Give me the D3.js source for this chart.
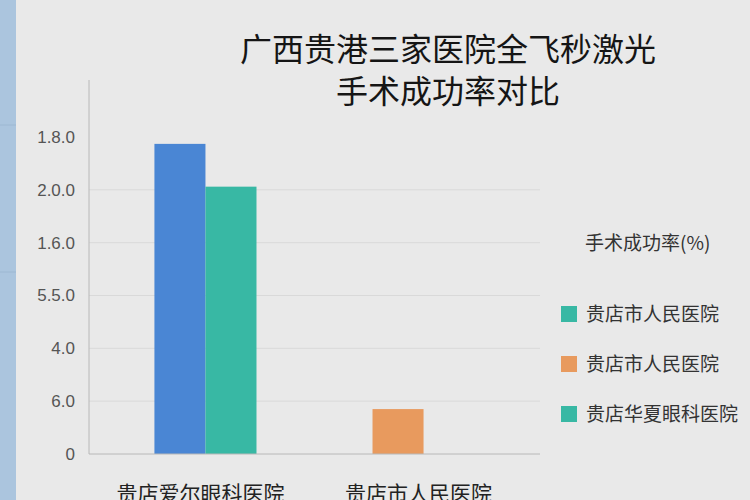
<!DOCTYPE html>
<html>
<head>
<meta charset="utf-8">
<script src="https://cdn.jsdelivr.net/npm/d3@7"></script>
<style>
  body { margin: 0; background: #e9e9e9; }
  svg { display: block; font-family: "Noto Sans CJK SC", "Noto Sans", sans-serif; }
</style>
</head>
<body>
<div id="chart"></div>
<script>
// data
const categories = ["贵店爱尔眼科医院", "贵店市人民医院"];
const slots = ["a", "b"];
const groupValues = [[5.87, 5.06], [0.85, null]];
const groupColors = [["#4a86d4", "#38b8a4"], ["#e89a5e", null]];
const tickValues = [0, 1, 2, 3, 4, 5, 6];
const tickLabels = ["0", "6.0", "4.0", "5.5.0", "1.6.0", "2.0.0", "1.8.0"];
const legendTitle = "手术成功率(%)";
const legendNames = ["贵店市人民医院", "贵店市人民医院", "贵店华夏眼科医院"];
const legendColors = ["#38b8a4", "#e89a5e", "#38b8a4"];
const titleLines = ["广西贵港三家医院全飞秒激光", "手术成功率对比"];

const chartWidth = 750;
const chartHeight = 500;

const svg = d3.select('#chart').append('svg')
    .attr('width', chartWidth)
    .attr('height', chartHeight);

svg.append('rect')
    .attr('width', chartWidth)
    .attr('height', chartHeight)
    .attr('fill', '#e9e9e9');

// blue strip on the left edge
svg.append('rect')
    .attr('width', 16)
    .attr('height', chartHeight)
    .attr('fill', '#abc5de');
svg.append('g').selectAll('line')
    .data([125, 272])
    .join('line')
    .attr('x1', 0).attr('x2', 16)
    .attr('y1', d => d).attr('y2', d => d)
    .attr('stroke', '#9db8d2');

const left = 89, right = 540, bottom = 454;

const y = d3.scaleLinear()
    .domain([0, 6])
    .range([bottom, 137]);

const x0 = d3.scaleBand()
    .domain(categories)
    .range([left, right])
    .paddingInner(0.532)
    .paddingOuter(0.3);

const x1 = d3.scaleBand()
    .domain(slots)
    .range([0, x0.bandwidth()]);

// grid lines
svg.append('g').selectAll('line')
    .data(tickValues.filter(d => d > 0 && d < 6))
    .join('line')
    .attr('x1', left).attr('x2', right)
    .attr('y1', d => y(d)).attr('y2', d => y(d))
    .attr('stroke', '#d9d9d9');

// y axis
const yAxis = svg.append('g')
    .attr('transform', `translate(${left},0)`)
    .call(d3.axisLeft(y)
        .tickValues(tickValues)
        .tickFormat((d, i) => tickLabels[i])
        .tickSize(0)
        .tickPadding(14));
yAxis.select('.domain').remove();
yAxis.selectAll('text')
    .attr('fill', '#555')
    .style('font-size', '17px')
    .style('font-family', '"Liberation Sans", "Noto Sans", sans-serif');

svg.append('line')
    .attr('x1', left).attr('x2', left)
    .attr('y1', 80).attr('y2', bottom)
    .attr('stroke', '#b8b8b8');

// bars
const groups = svg.append('g').selectAll('g')
    .data(categories)
    .join('g')
    .attr('transform', d => `translate(${x0(d)},0)`);

groups.selectAll('rect')
    .data((d, i) => slots.map((s, j) => ({ slot: s, value: groupValues[i][j], color: groupColors[i][j] }))
        .filter(b => b.value != null))
    .join('rect')
    .attr('x', d => x1(d.slot))
    .attr('y', d => y(d.value))
    .attr('width', x1.bandwidth())
    .attr('height', d => bottom - y(d.value))
    .attr('fill', d => d.color);

// baseline
svg.append('line')
    .attr('x1', left).attr('x2', right)
    .attr('y1', bottom).attr('y2', bottom)
    .attr('stroke', '#b8b8b8');

// category labels (cut by the bottom edge, as in the original)
svg.append('g').selectAll('text')
    .data(categories)
    .join('text')
    .attr('x', d => x0(d) + x0.bandwidth() / 2 - 5)
    .attr('y', 501)
    .attr('text-anchor', 'middle')
    .attr('fill', '#222')
    .style('font-size', '21px')
    .text(d => d);

// title
svg.append('g').selectAll('text')
    .data(titleLines)
    .join('text')
    .attr('x', 448)
    .attr('y', (d, i) => 61 + i * 42)
    .attr('text-anchor', 'middle')
    .attr('fill', '#151515')
    .style('font-size', '32px')
    .style('font-weight', 400)
    .text(d => d);

// legend
svg.append('text')
    .attr('x', 585)
    .attr('y', 250)
    .attr('fill', '#333')
    .style('font-size', '19px')
    .text(legendTitle);

const legend = svg.append('g').selectAll('g')
    .data(legendNames)
    .join('g')
    .attr('transform', (d, i) => `translate(561,${306 + i * 50})`);

legend.append('rect')
    .attr('width', 16)
    .attr('height', 16)
    .attr('fill', (d, i) => legendColors[i]);

legend.append('text')
    .attr('x', 25)
    .attr('y', 15)
    .attr('fill', '#333')
    .style('font-size', '19px')
    .text(d => d);
</script>
</body>
</html>
